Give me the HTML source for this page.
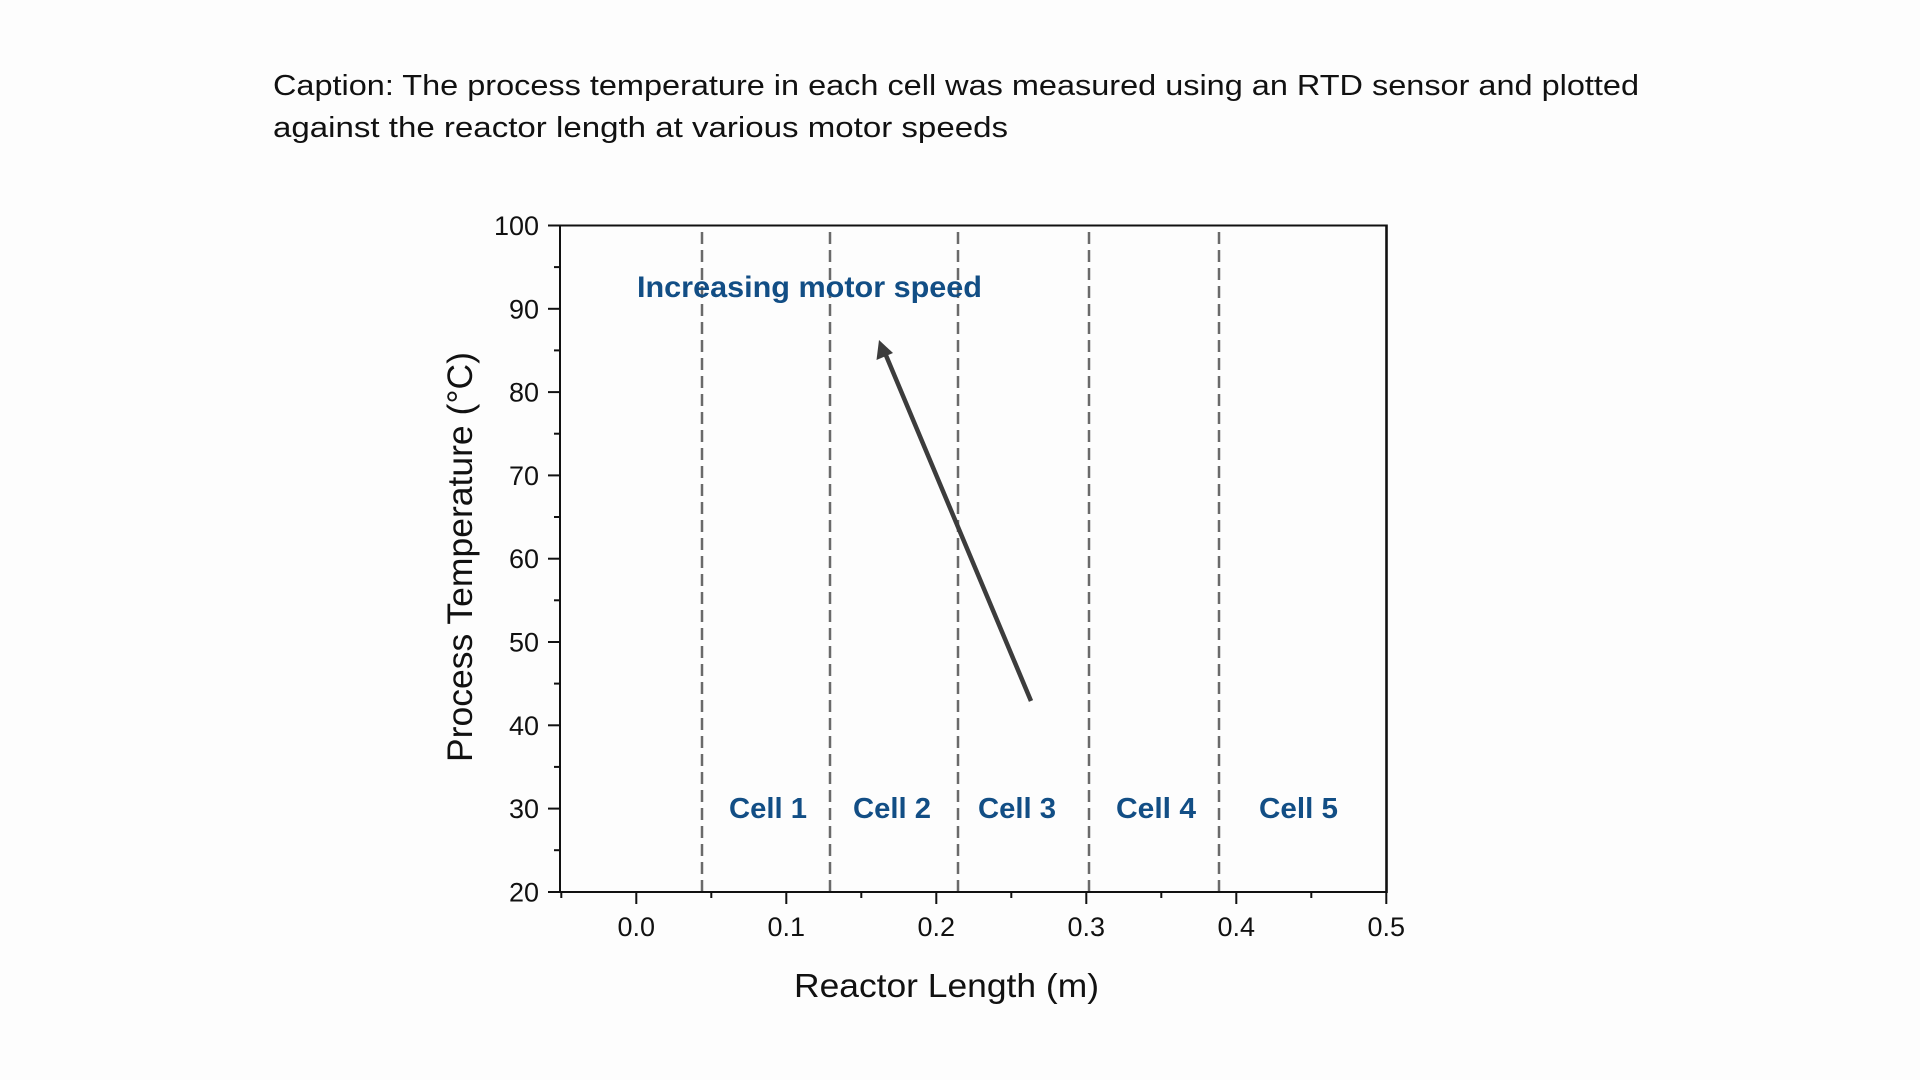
<!DOCTYPE html>
<html>
<head>
<meta charset="utf-8">
<style>
  html, body { margin: 0; padding: 0; background: #fdfdfd; }
  svg { display: block; }
  text { font-family: "Liberation Sans", Arial, sans-serif; }
</style>
</head>
<body>
<svg width="1920" height="1080" viewBox="0 0 1920 1080" xmlns="http://www.w3.org/2000/svg">
  <rect x="0" y="0" width="1920" height="1080" fill="#fdfdfd"/>

  <!-- Caption -->
  <text x="273" y="95" font-size="29" fill="#111" textLength="1366" lengthAdjust="spacingAndGlyphs">Caption: The process temperature in each cell was measured using an RTD sensor and plotted</text>
  <text x="273" y="137" font-size="29" fill="#111" textLength="735" lengthAdjust="spacingAndGlyphs">against the reactor length at various motor speeds</text>

  <!-- Dashed cell separators -->
  <g stroke="#6a6a6a" stroke-width="2.5" stroke-dasharray="12 6" fill="none">
    <line x1="702" y1="232" x2="702" y2="891"/>
    <line x1="830" y1="232" x2="830" y2="891"/>
    <line x1="958" y1="232" x2="958" y2="891"/>
    <line x1="1089" y1="232" x2="1089" y2="891"/>
    <line x1="1219" y1="232" x2="1219" y2="891"/>
  </g>

  <!-- Plot frame -->
  <g stroke="#111" fill="none">
    <line x1="560" y1="225.5" x2="1387" y2="225.5" stroke-width="2"/>
    <line x1="560" y1="892" x2="1387" y2="892" stroke-width="2"/>
    <line x1="560" y1="224.5" x2="560" y2="893" stroke-width="2"/>
    <line x1="1386.5" y1="224.5" x2="1386.5" y2="893" stroke-width="2.6"/>
  </g>

  <!-- Y ticks -->
  <g stroke="#111" stroke-width="2">
    <line x1="548" y1="225.5" x2="560" y2="225.5"/>
    <line x1="548" y1="308.8" x2="560" y2="308.8"/>
    <line x1="548" y1="392.1" x2="560" y2="392.1"/>
    <line x1="548" y1="475.4" x2="560" y2="475.4"/>
    <line x1="548" y1="558.7" x2="560" y2="558.7"/>
    <line x1="548" y1="642.0" x2="560" y2="642.0"/>
    <line x1="548" y1="725.3" x2="560" y2="725.3"/>
    <line x1="548" y1="808.6" x2="560" y2="808.6"/>
    <line x1="548" y1="892" x2="560" y2="892"/>
    <!-- minor -->
    <line x1="554" y1="267.1" x2="560" y2="267.1"/>
    <line x1="554" y1="350.4" x2="560" y2="350.4"/>
    <line x1="554" y1="433.7" x2="560" y2="433.7"/>
    <line x1="554" y1="517.0" x2="560" y2="517.0"/>
    <line x1="554" y1="600.3" x2="560" y2="600.3"/>
    <line x1="554" y1="683.6" x2="560" y2="683.6"/>
    <line x1="554" y1="766.9" x2="560" y2="766.9"/>
    <line x1="554" y1="850.2" x2="560" y2="850.2"/>
  </g>

  <!-- X ticks -->
  <g stroke="#111" stroke-width="2">
    <line x1="636.3" y1="892" x2="636.3" y2="904"/>
    <line x1="786.3" y1="892" x2="786.3" y2="904"/>
    <line x1="936.3" y1="892" x2="936.3" y2="904"/>
    <line x1="1086.3" y1="892" x2="1086.3" y2="904"/>
    <line x1="1236.3" y1="892" x2="1236.3" y2="904"/>
    <line x1="1386.3" y1="892" x2="1386.3" y2="904"/>
    <!-- minor -->
    <line x1="561.3" y1="892" x2="561.3" y2="898"/>
    <line x1="711.3" y1="892" x2="711.3" y2="898"/>
    <line x1="861.3" y1="892" x2="861.3" y2="898"/>
    <line x1="1011.3" y1="892" x2="1011.3" y2="898"/>
    <line x1="1161.3" y1="892" x2="1161.3" y2="898"/>
    <line x1="1311.3" y1="892" x2="1311.3" y2="898"/>
  </g>

  <!-- Y tick labels -->
  <g font-size="27" fill="#111" text-anchor="end">
    <text x="539" y="235">100</text>
    <text x="539" y="318.3">90</text>
    <text x="539" y="401.6">80</text>
    <text x="539" y="484.9">70</text>
    <text x="539" y="568.2">60</text>
    <text x="539" y="651.5">50</text>
    <text x="539" y="734.8">40</text>
    <text x="539" y="818.1">30</text>
    <text x="539" y="901.5">20</text>
  </g>

  <!-- X tick labels -->
  <g font-size="27" fill="#111" text-anchor="middle">
    <text x="636.3" y="936">0.0</text>
    <text x="786.3" y="936">0.1</text>
    <text x="936.3" y="936">0.2</text>
    <text x="1086.3" y="936">0.3</text>
    <text x="1236.3" y="936">0.4</text>
    <text x="1386.3" y="936">0.5</text>
  </g>

  <!-- Axis titles -->
  <text x="794" y="997" font-size="33" fill="#111" textLength="305" lengthAdjust="spacingAndGlyphs">Reactor Length (m)</text>
  <text transform="translate(472,762) rotate(-90)" x="0" y="0" font-size="35" fill="#111" textLength="410" lengthAdjust="spacingAndGlyphs">Process Temperature (°C)</text>

  <!-- Annotations -->
  <g fill="#124e85" font-weight="bold">
    <text x="637" y="297" font-size="30" textLength="345" lengthAdjust="spacingAndGlyphs">Increasing motor speed</text>
    <text x="729" y="818" font-size="29" textLength="78" lengthAdjust="spacingAndGlyphs">Cell 1</text>
    <text x="853" y="818" font-size="29" textLength="78" lengthAdjust="spacingAndGlyphs">Cell 2</text>
    <text x="978" y="818" font-size="29" textLength="78" lengthAdjust="spacingAndGlyphs">Cell 3</text>
    <text x="1116" y="818" font-size="29" textLength="80" lengthAdjust="spacingAndGlyphs">Cell 4</text>
    <text x="1259" y="818" font-size="29" textLength="79" lengthAdjust="spacingAndGlyphs">Cell 5</text>
  </g>

  <!-- Arrow -->
  <line x1="1031" y1="701" x2="885" y2="353" stroke="#3c3c3c" stroke-width="4.5" stroke-linecap="butt"/>
  <polygon points="879,340 876.5,360 893,353" fill="#3c3c3c"/>
</svg>
</body>
</html>
